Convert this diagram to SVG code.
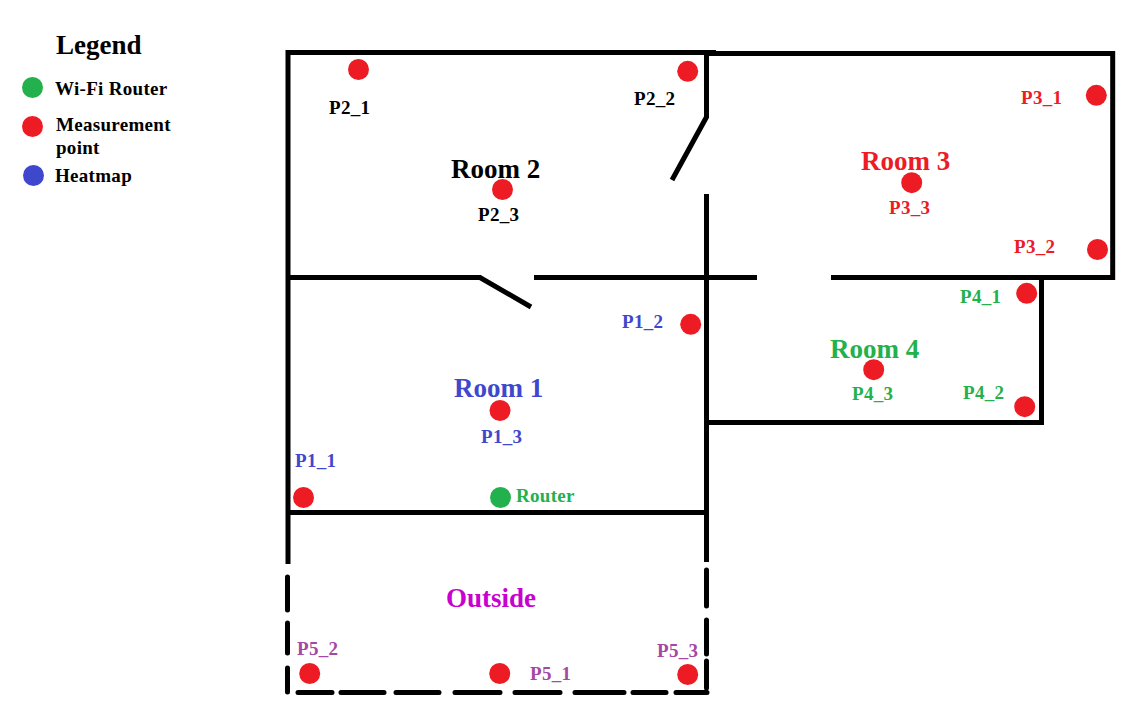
<svg xmlns="http://www.w3.org/2000/svg" width="1137" height="706" viewBox="0 0 1137 706">
<style>
text{font-family:"Liberation Serif","Times New Roman",serif;font-weight:bold}
.w{fill:none;stroke:#000;stroke-width:5;stroke-linecap:butt}
.d{fill:none;stroke:#000;stroke-width:5;stroke-linecap:round}
.m{fill:#ed1c24}.r{fill:#22b14c}.h{fill:#3f48cc}
.l{font-size:19px;letter-spacing:.3px}
.t{font-size:27px}
.b{fill:#3f48cc}.g{fill:#22b14c}.e{fill:#ed1c24}.k{fill:#000}.p{fill:#a349a4}
</style>
<rect width="1137" height="706" fill="#fff"/>
<g id="connectors">
<path class="w" d="M288 564V52.500H716M706.500 52V117L672 180M706.500 194V562M707 53.500H1112.700V277.500H831M757 277.500H534M288 277.500H480L531 307M1041.500 277V422.500H707M288 512.500H707"/>
<path class="d" d="M287.500 577V610M287.500 623V653M287.500 668V692M706.500 570V606M706.500 620V654M706.500 661V688M298 692.500H332M341 692.500H384M396 692.500H439M455 692.500H500M515 692.500H560M575 692.500H624M633 692.500H666M676 692.500H707"/>
</g>
<g id="legend">
<text x="56" y="54" font-size="27">Legend</text>
<circle class="r" cx="32.500" cy="87.500" r="10.500"/><text x="55" y="95" class="l k">Wi-Fi Router</text>
<circle class="m" cx="32.500" cy="126.500" r="10.500"/><text x="56" y="131" class="l k">Measurement</text><text x="56" y="154" class="l k">point</text>
<circle class="h" cx="33.500" cy="175.500" r="10.500"/><text x="55" y="182" class="l k">Heatmap</text>
</g>
<g id="room1"><text x="454" y="397" class="t b">Room 1</text></g>
<g id="room2"><text x="451" y="178" class="t k">Room 2</text></g>
<g id="room3"><text x="861" y="170" class="t e">Room 3</text></g>
<g id="room4"><text x="830" y="358" class="t g">Room 4</text></g>
<g id="outside"><text x="446" y="607" class="t" fill="#c800d0">Outside</text></g>
<g id="router"><circle class="r" cx="500.500" cy="497.500" r="10.500"/><text x="516" y="502" class="l g">Router</text></g>
<g id="p1_1"><circle class="m" cx="303.500" cy="497.500" r="10.500"/><text x="295" y="467" class="l b">P1_1</text></g>
<g id="p1_2"><circle class="m" cx="690.700" cy="324.300" r="10.500"/><text x="622" y="328" class="l b">P1_2</text></g>
<g id="p1_3"><circle class="m" cx="500" cy="410.500" r="10.500"/><text x="481" y="443" class="l b">P1_3</text></g>
<g id="p2_1"><circle class="m" cx="358.500" cy="69.500" r="10.500"/><text x="329" y="114" class="l k">P2_1</text></g>
<g id="p2_2"><circle class="m" cx="687.700" cy="71.300" r="10.500"/><text x="634" y="105" class="l k">P2_2</text></g>
<g id="p2_3"><circle class="m" cx="502.500" cy="189.500" r="10.500"/><text x="478" y="221" class="l k">P2_3</text></g>
<g id="p3_1"><circle class="m" cx="1096.300" cy="95.300" r="10.500"/><text x="1021" y="104" class="l e">P3_1</text></g>
<g id="p3_2"><circle class="m" cx="1097.500" cy="249.500" r="10.500"/><text x="1014" y="253" class="l e">P3_2</text></g>
<g id="p3_3"><circle class="m" cx="911.700" cy="182.700" r="10.500"/><text x="889" y="214" class="l e">P3_3</text></g>
<g id="p4_1"><circle class="m" cx="1026.700" cy="293.300" r="10.500"/><text x="960" y="303" class="l g">P4_1</text></g>
<g id="p4_2"><circle class="m" cx="1024.700" cy="406.700" r="10.500"/><text x="963" y="399" class="l g">P4_2</text></g>
<g id="p4_3"><circle class="m" cx="873.700" cy="369.700" r="10.500"/><text x="852" y="400" class="l g">P4_3</text></g>
<g id="p5_1"><circle class="m" cx="499.700" cy="673.500" r="10.500"/><text x="530" y="680" class="l p">P5_1</text></g>
<g id="p5_2"><circle class="m" cx="309.700" cy="673.500" r="10.500"/><text x="297" y="655" class="l p">P5_2</text></g>
<g id="p5_3"><circle class="m" cx="687.700" cy="674.500" r="10.500"/><text x="657" y="657" class="l p">P5_3</text></g>
</svg>
